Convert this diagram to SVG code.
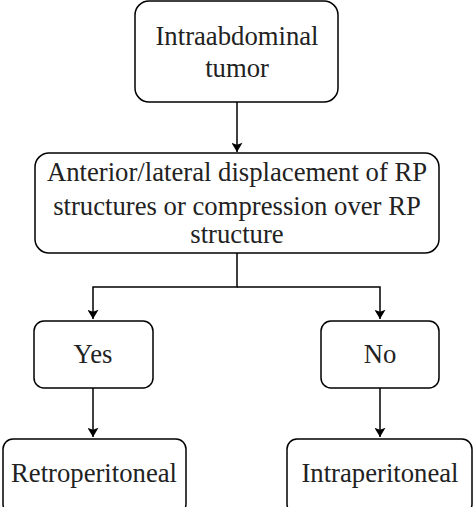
<svg xmlns="http://www.w3.org/2000/svg" width="474" height="507" viewBox="0 0 474 507">
<style>
.box{fill:#fff;stroke:#000;stroke-width:1.5}
.t{font-family:"Liberation Serif","Times New Roman",serif;font-size:26.7px;fill:#222;text-anchor:middle}
.c{fill:none;stroke:#000;stroke-width:1.5}
</style>
<defs>
<marker id="ah" viewBox="0 0 10 12" refX="10" refY="6" markerWidth="12" markerHeight="11" markerUnits="userSpaceOnUse" orient="auto">
<path d="M0,0 L10,6 L0,12 L2,6 Z" fill="#000"/>
</marker>
</defs>
<rect width="474" height="507" fill="#fff"/>
<g id="connectors">
<path class="c" d="M237,102 V152" marker-end="url(#ah)"/>
<path class="c" d="M237,253 V287 H93 V319" marker-end="url(#ah)"/>
<path class="c" d="M237,287 H380 V319" marker-end="url(#ah)"/>
<path class="c" d="M93,388 V437" marker-end="url(#ah)"/>
<path class="c" d="M380,388 V437" marker-end="url(#ah)"/>
</g>
<g id="n1">
<rect class="box" x="135" y="1" width="203" height="101" rx="14"/>
<text class="t" x="237" y="45">Intraabdominal</text>
<text class="t" x="237" y="77">tumor</text>
</g>
<g id="n2">
<rect class="box" x="35" y="153" width="404" height="100" rx="14"/>
<text class="t" x="237" y="181">Anterior/lateral displacement of RP</text>
<text class="t" x="237" y="215">structures or compression over RP</text>
<text class="t" x="237" y="243">structure</text>
</g>
<g id="n3">
<rect class="box" x="34" y="321" width="119" height="67" rx="10"/>
<text class="t" x="93" y="363">Yes</text>
</g>
<g id="n4">
<rect class="box" x="321" y="321" width="118" height="67" rx="10"/>
<text class="t" x="380" y="363">No</text>
</g>
<g id="n5">
<rect class="box" x="3" y="439" width="183" height="75" rx="10"/>
<text class="t" x="94" y="482">Retroperitoneal</text>
</g>
<g id="n6">
<rect class="box" x="287" y="439" width="185" height="75" rx="10"/>
<text class="t" x="380" y="482">Intraperitoneal</text>
</g>
</svg>
